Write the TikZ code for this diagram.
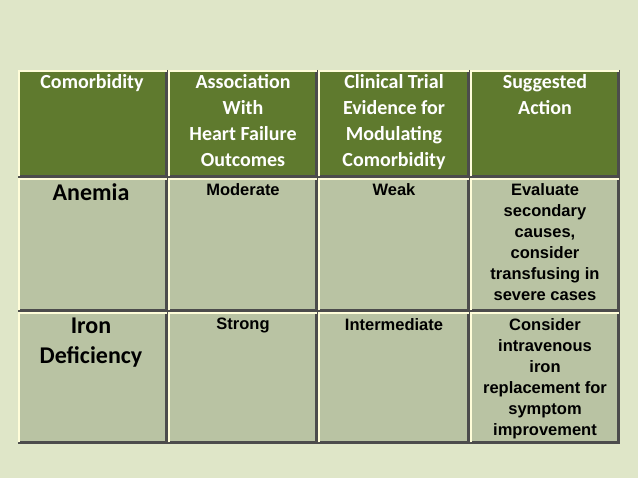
\documentclass[tikz,border=0pt]{standalone}
\usepackage{fontspec}
\setmainfont{Carlito}
\newfontfamily\arial{Liberation Sans}
\definecolor{bg}{HTML}{DFE6C8}
\definecolor{hd}{HTML}{5F7A2E}
\definecolor{bd}{HTML}{B9C3A3}
\tikzset{
  cellhead/.style={fill=hd},
  cellbody/.style={fill=bd},
  htxt/.style={anchor=north,align=center,text=white,font=\bfseries\fontsize{20}{26}\selectfont,inner sep=0pt},
  rtxt/.style={anchor=north,align=center,text=black,font=\bfseries\fontsize{24}{30}\selectfont,inner sep=0pt},
  btxt/.style={anchor=north,align=center,text=black,font=\arial\bfseries\fontsize{16.5}{21}\selectfont,inner sep=0pt},
}
\begin{document}
\begin{tikzpicture}[x=1pt,y=-1pt]
\fill[bg] (0,0) rectangle (638,478);
\useasboundingbox (0,0) rectangle (638,478);
\foreach \xa/\xb in {18/168,168/318,318/470,470/620}{
  \foreach \ya/\yb/\cs in {70/178/cellhead,178/312/cellbody,312/444/cellbody}{
    \path[\cs] (\xa,\ya) rectangle (\xb,\yb);
    \draw[line width=3,gray!60!black] (\xb-1.5,\ya) -- (\xb-1.5,\yb-1.5) -- (\xa,\yb-1.5);
    \draw[line width=2.5,white!85!yellow] (\xa+1.2,\yb-1.5) -- (\xa+1.2,\ya+1.2) -- (\xb-1.5,\ya+1.2);
  }
}
\node[htxt] (h1) at (92,74) {Comorbidity};
\node[htxt] (h2) at (243,74) {Association\\With\\Heart Failure\\Outcomes};
\node[htxt] (h3) at (394,74) {Clinical Trial\\Evidence for\\Modulating\\Comorbidity};
\node[htxt] (h4) at (545,74) {Suggested\\Action};
\node[rtxt] (r1) at (91,183) {Anemia};
\node[rtxt] (r2) at (91,318) {Iron\\Deficiency};
\node[btxt] (a1) at (243,183) {Moderate};
\node[btxt] (b1) at (394,183) {Weak};
\node[btxt] (c1) at (545,183) {Evaluate\\secondary\\causes,\\consider\\transfusing in\\severe cases};
\node[btxt] (a2) at (243,318) {Strong};
\node[btxt] (b2) at (394,318) {Intermediate};
\node[btxt] (c2) at (545,318) {Consider\\intravenous\\iron\\replacement for\\symptom\\improvement};
\end{tikzpicture}
\end{document}
